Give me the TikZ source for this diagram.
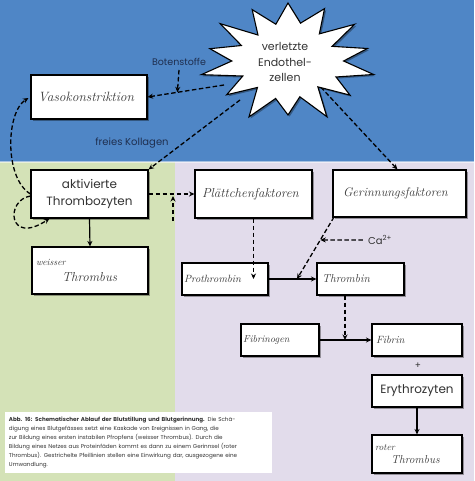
\documentclass[tikz,border=0pt]{standalone}
\usepackage{fontspec}
\newfontfamily\fut{Poppins}
\usetikzlibrary{arrows.meta,shadows,calc}
\definecolor{bgblue}{HTML}{4F86C6}
\definecolor{bggreen}{HTML}{D4E2B7}
\definecolor{bglav}{HTML}{E2DCEB}
\definecolor{navy}{HTML}{1F2F4F}
\definecolor{txt}{HTML}{333333}
\definecolor{hand}{HTML}{3A3A3A}
\newcommand{\hs}[1]{\fontsize{#1}{#1}\selectfont}
\begin{document}
\begin{tikzpicture}[x=1pt,y=-1pt,
  box/.style={draw=black, line width=1.1pt, fill=white, inner sep=0pt,
    drop shadow={shadow xshift=1.6pt, shadow yshift=-1.6pt, fill=black, opacity=0.35}},
  hw/.style={font=\fontsize{10.5}{13}\selectfont\itshape, text=hand, align=left},
  sf/.style={font=\fut\fontsize{12}{17}\selectfont, text=txt, align=center},
  lbl/.style={font=\fut\fontsize{9.5}{11}\selectfont, text=navy, inner sep=0pt},
  dsh/.style={dash pattern=on 4.5pt off 2.5pt, line width=1.3pt, -{Stealth[length=5.5pt,width=5pt]}},
  sld/.style={line width=1.2pt, -{Stealth[length=5.5pt,width=5pt]}}]
\useasboundingbox (0,0) rectangle (474,481);
\fill[bgblue] (0,0) rectangle (474,162);
\fill[bggreen] (0,162) rectangle (175,481);
\fill[bglav] (175,162) rectangle (474,481);
\fill[white,opacity=0.5] (0,161) rectangle (474,163);

% boxes
\node[box, minimum width=116pt, minimum height=44pt, hw, text width=102pt, font=\hs{13.5}\itshape] (vaso) at (89,97) {Vasokonstriktion};
\node[box, minimum width=117pt, minimum height=48pt, sf] (akt) at (89.5,194) {aktivierte\\Thrombozyten};
\node[box, minimum width=117pt, minimum height=48pt, hw, text width=103pt, font=\hs{13}\itshape] (plat) at (253.5,194) {Plättchenfaktoren};
\node[box, minimum width=133pt, minimum height=47pt, hw, text width=113pt, font=\hs{12.5}\itshape] (ger) at (399.5,193.5) {Gerinnungsfaktoren};
\node[box, minimum width=116pt, minimum height=47pt, hw, text width=108pt, font=\hs{13}\itshape] (weis) at (90,270.5) {{\hs{9.5}weisser}\\[3pt]\hspace*{26pt}Thrombus};
\node[box, minimum width=86pt, minimum height=32pt, hw, text width=82pt] (proth) at (225,279) {Prothrombin};
\node[box, minimum width=87pt, minimum height=32pt, hw, text width=77pt, font=\hs{11.5}\itshape] (thromb) at (360.5,279) {Thrombin};
\node[box, minimum width=78pt, minimum height=32pt, hw, text width=74pt, font=\hs{10}\itshape] (fibgen) at (280,340) {Fibrinogen};
\node[box, minimum width=90pt, minimum height=32pt, hw, text width=82pt] (fib) at (417,340) {Fibrin};
\node[box, minimum width=90pt, minimum height=32pt, sf] (ery) at (417,391) {Erythrozyten};
\node[box, minimum width=90pt, minimum height=38pt, hw, text width=84pt, font=\hs{11.5}\itshape] (roter) at (417,454) {{\hs{9.5}roter}\\[2pt]\hspace*{16pt}Thrombus};
\node[fill=white, minimum width=267pt, minimum height=61pt, inner sep=0pt, text width=259pt, align=left,
  font=\fut\fontsize{5.6}{9.1}\selectfont, text=txt] (cap) at (138.5,442.5)
  {\textbf{Abb. 16: Schematischer Ablauf der Blutstillung und Blutgerinnung.} Die Schä-\\
   digung eines Blutgefässes setzt eine Kaskade von Ereignissen in Gang, die\\
   zur Bildung eines ersten instabilen Pfropfens (weisser Thrombus). Durch die\\
   Bildung eines Netzes aus Proteinfäden kommt es dann zu einem Gerinnsel (roter\\
   Thrombus). Gestrichelte Pfeillinien stellen eine Einwirkung dar, ausgezogene eine\\
   Umwandlung.};

% labels
\node[lbl] (boten) at (179,62) {Botenstoffe};
\node[lbl, font=\fut\fontsize{10}{12}\selectfont] (koll) at (132,143) {freies Kollagen};
\node[lbl, text=txt, font=\fut\fontsize{10}{12}\selectfont] (ca) at (380,240) {Ca\textsuperscript{2+}};

% coordinates
\coordinate (s1) at (224,85);
\coordinate (s2) at (240,100);
\coordinate (s3) at (316,82);
\coordinate (bt) at (179,70);
\coordinate (bj) at ($(s1)!0.61!(vaso.east)$);
\coordinate (jf) at (173,221);
\coordinate (j1) at (plat.south |- proth.east);
\coordinate (gs) at (334,217);
\coordinate (j2) at (297,279);
\coordinate (cj) at ($(gs)!0.37!(j2)$);
\coordinate (j3) at (345,340);

% connectors
\draw[dsh] (s1) -- (vaso.east);
\draw[dsh] (bt) -- (bj);
\draw[dsh] (s2) -- (akt.north east);
\draw[dsh] (s3) -- ($(ger.north west)+(65,0)$);
\draw[dsh] (akt.west) .. controls (4,178) and (6,112) .. ($(vaso.west)+(-2,1)$);
\draw[dsh] ($(akt.west)+(0,2)$) .. controls (5,200) and (8,246) .. ($(akt.south west)+(19,0)$);
\draw[sld] (akt.south) -- (weis.north);
\draw[dsh] (akt.east) -- (plat.west);
\draw[dsh] (jf) -- (173,196);
\draw[dsh] (plat.south) -- (j1);
\draw[dsh] (gs) -- (j2);
\draw[dsh] (ca.west) ++(-5,0) -- (cj);
\draw[sld] (proth.east) -- (thromb.west);
\draw[dsh] (thromb.south -| j3) -- (j3);
\draw[sld] (fibgen.east) -- (fib.west);
\draw[sld] (ery.south) -- (roter.north);
\node[font=\fut\fontsize{9}{10}\selectfont, text=txt] (plus) at (418,366) {+};

% star
\draw[fill=white, line width=1.1pt, line join=miter,
  drop shadow={shadow xshift=1.6pt, shadow yshift=-1.6pt, fill=black, opacity=0.35}]
  plot[samples at={0,...,27}, variable=\i]
  ({288+84*(mod(\i,2)==0 ? 1+0.07*sin(\i*97) : 0.62+0.05*cos(\i*53))*cos(90+\i*12.857)},
   {61-58*(mod(\i,2)==0 ? 1+0.07*sin(\i*97) : 0.62+0.05*cos(\i*53))*sin(90+\i*12.857)}) -- cycle;
\node[sf, font=\fut\fontsize{11}{15.5}\selectfont] (star) at (285,62) {verletzte\\Endothel-\\zellen};
\end{tikzpicture}
\end{document}
